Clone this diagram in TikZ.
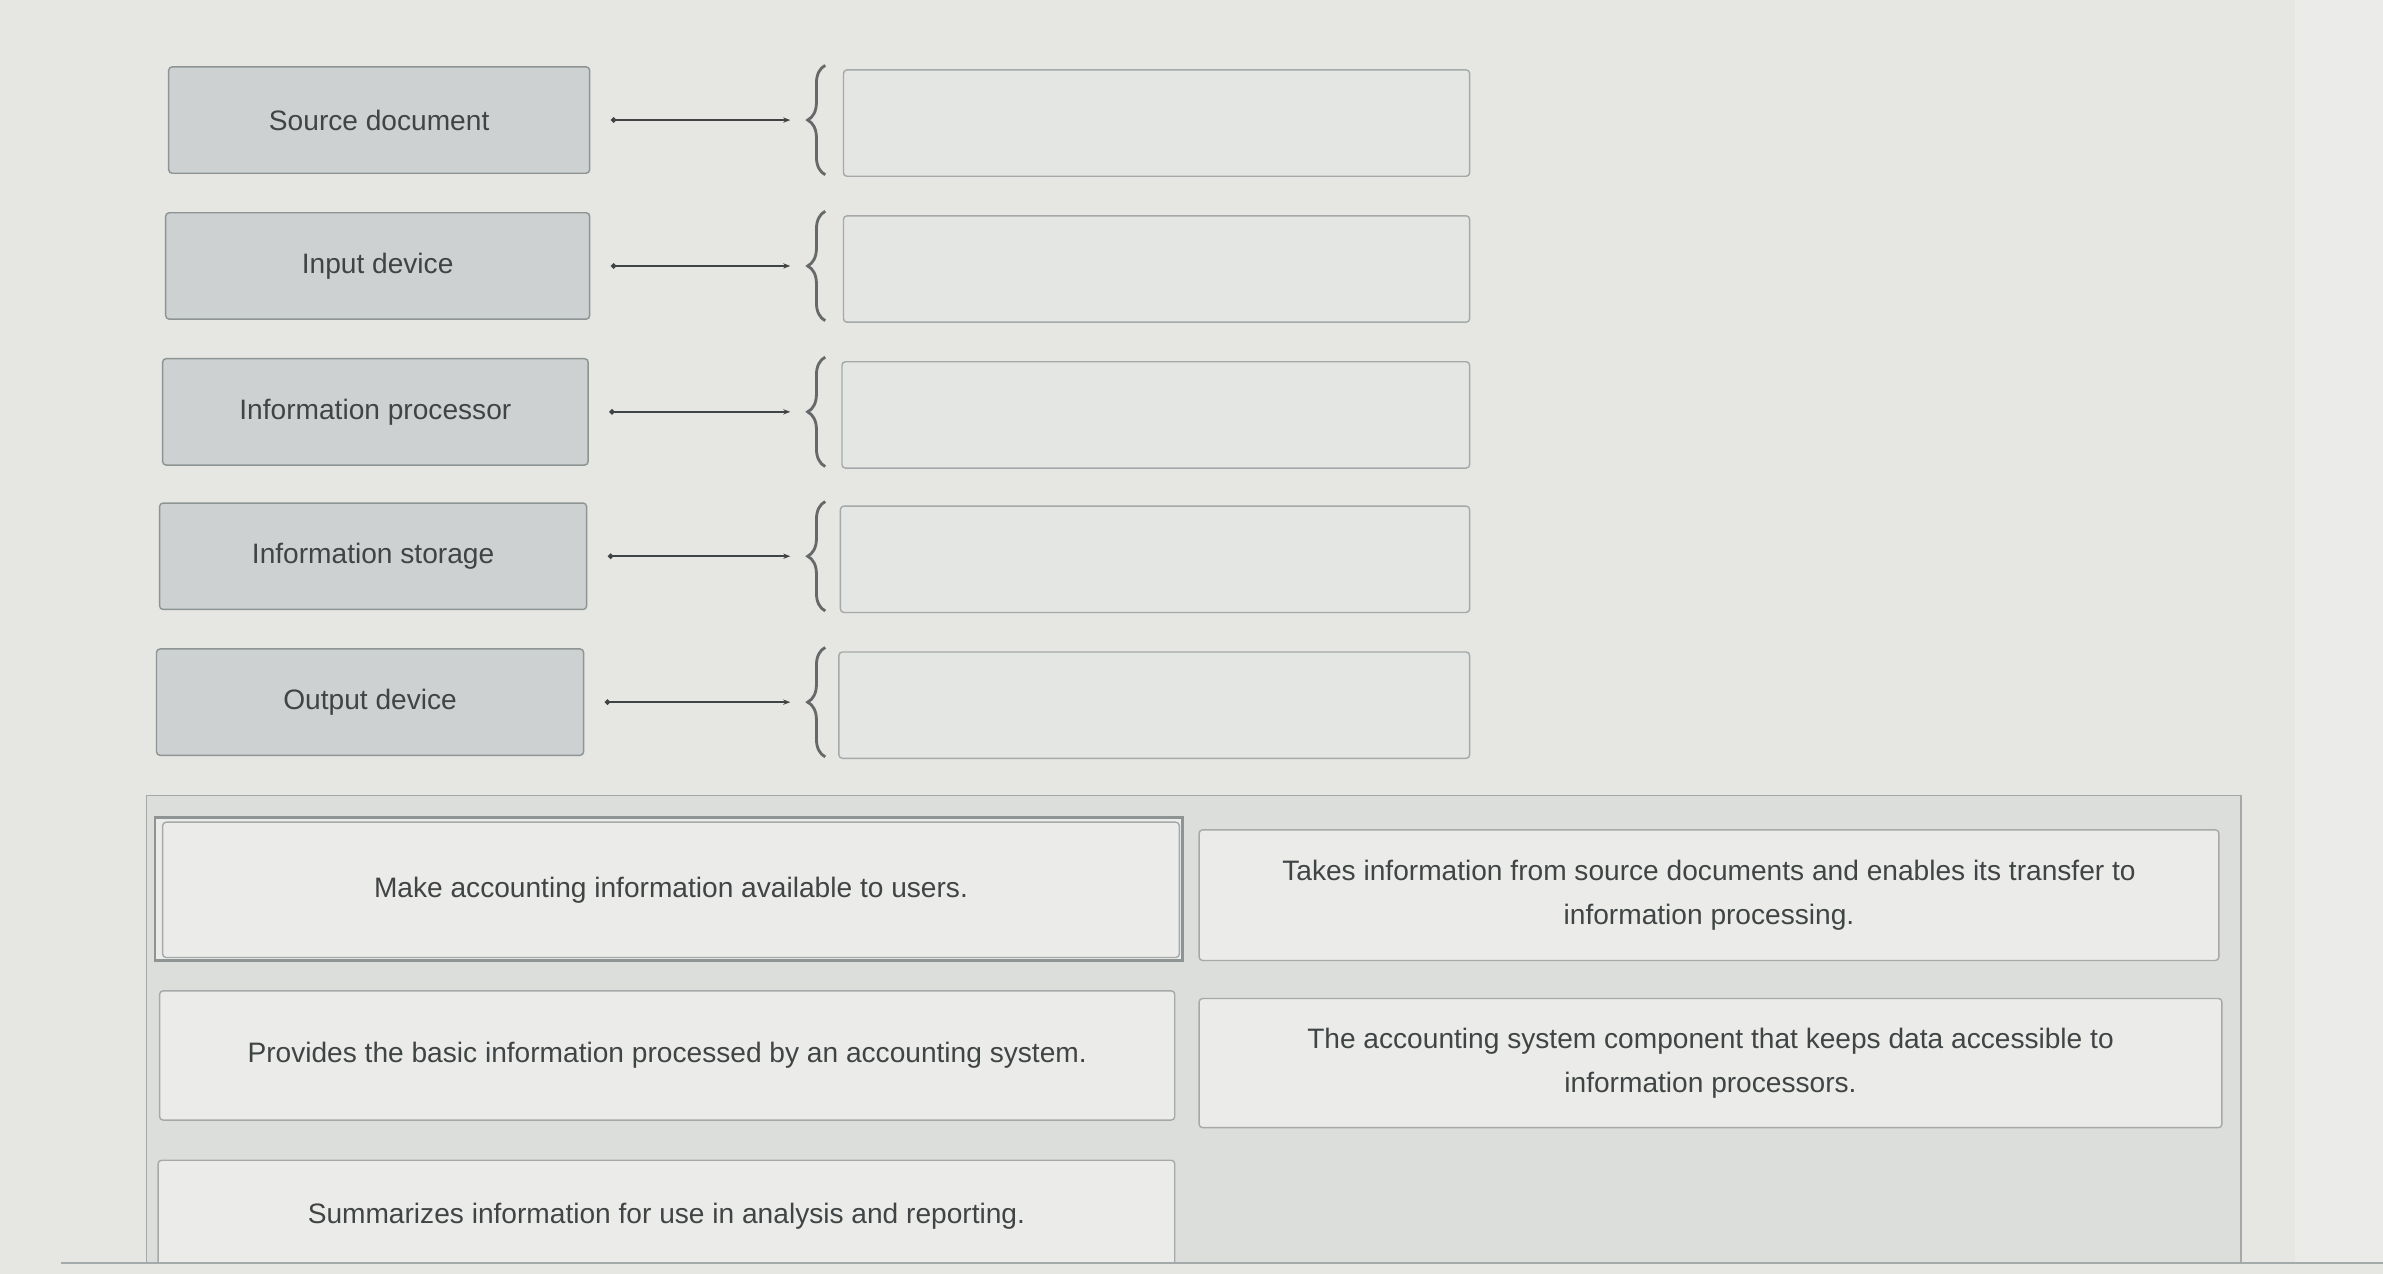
\documentclass[tikz,border=0pt]{standalone}
\usepackage{fontspec}
\setmainfont{Liberation Sans}
\usetikzlibrary{decorations.pathreplacing,arrows.meta}
\definecolor{bg}{HTML}{E6E6E3}
\definecolor{lbox}{HTML}{CDD1D1}
\definecolor{lbord}{HTML}{8E9494}
\definecolor{tbox}{HTML}{E4E6E4}
\definecolor{panel}{HTML}{DCDEDC}
\definecolor{card}{HTML}{EBECEA}
\definecolor{txt}{HTML}{404444}
\begin{document}
\begin{tikzpicture}[x=0.0152cm,y=-0.0152cm,
  lab/.style={draw=lbord,fill=lbox,rounded corners=1pt,text=txt,font=\fontsize{8}{10}\selectfont},
  tgt/.style={draw=lbord!80,fill=tbox,rounded corners=1pt},
  cardbox/.style={draw=lbord!80,fill=card,rounded corners=1pt,text=txt,align=center,font=\fontsize{8}{12.5}\selectfont},
  conn/.style={draw=txt,line width=0.5pt,{Circle[length=1.5pt]}-{Stealth[length=2pt]}},
  brc/.style={draw=txt!80,line width=0.8pt,decorate,decoration={brace,amplitude=5pt}}]
\fill[bg] (0,0) rectangle (1568,838);
\fill[white!20!bg] (1510,0) rectangle (1568,838);
\useasboundingbox (0,0) rectangle (1568,838);
\foreach \n/\t/\xa/\xb/\y/\xt in {s/Source document/111/388/79/555,i/Input device/109/388/175/555,p/Information processor/107/387/271/554,st/Information storage/105/386/366/553,o/Output device/103/384/462/552}{
  \node[lab,minimum width={(\xb-\xa)*0.0152cm},minimum height={70*0.0152cm}] (\n) at ({(\xa+\xb)/2},\y) {\t};
  \coordinate (\n a) at ({\xb+14},\y);
  \coordinate (\n b) at (520,\y);
  \draw[conn] (\n a) -- (\n b);
  \draw[brc] (543,\y+36) -- (543,\y-36);
  \node[tgt,minimum width={(967-\xt)*0.0152cm},minimum height={70*0.0152cm}] (\n t) at ({(967+\xt)/2},\y+2) {};
}
\node[draw=lbord!80,fill=panel,minimum width={1378*0.0152cm},minimum height={320*0.0152cm},anchor=north west] (panel) at (96,523) {};
\node[draw=lbord,line width=0.8pt,fill=card,minimum width={676*0.0152cm},minimum height={94*0.0152cm}] (c1o) at (440,585) {};
\node[cardbox,minimum width={669*0.0152cm},minimum height={89*0.0152cm}] (c1) at (441.5,585.5) {Make accounting information available to users.};
\node[cardbox,minimum width={671*0.0152cm},minimum height={86*0.0152cm}] (c2) at (1124.5,589) {Takes information from source documents and enables its transfer to\\information processing.};
\node[cardbox,minimum width={668*0.0152cm},minimum height={85*0.0152cm}] (c3) at (439,694.5) {Provides the basic information processed by an accounting system.};
\node[cardbox,minimum width={673*0.0152cm},minimum height={85*0.0152cm}] (c4) at (1125.5,699.5) {The accounting system component that keeps data accessible to\\information processors.};
\node[cardbox,minimum width={669*0.0152cm},minimum height={80*0.0152cm},anchor=north] (c5) at (438.5,763) {};
\node[text=txt,font=\fontsize{8}{10}\selectfont] (c5t) at (438.5,800) {Summarizes information for use in analysis and reporting.};
\draw[lbord!80,line width=0.8pt] (40,831) -- (1568,831);
\fill[bg] (0,832) rectangle (1568,838);
\end{tikzpicture}
\end{document}
